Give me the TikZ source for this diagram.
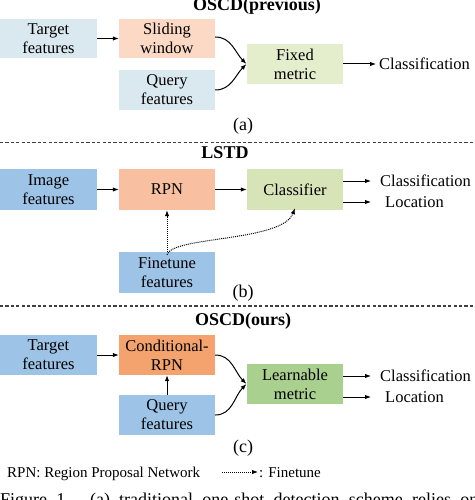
\documentclass[tikz,border=0pt]{standalone}
\usepackage{fontspec}
\setmainfont{Liberation Serif}
\usetikzlibrary{arrows.meta}
\definecolor{paleblue}{HTML}{DAE8F0}
\definecolor{palesalmon}{HTML}{FCD9C4}
\definecolor{palegreen}{HTML}{E4EDCC}
\definecolor{midblue}{HTML}{9DC3E6}
\definecolor{midsalmon}{HTML}{F8C0A0}
\definecolor{midgreen}{HTML}{D6E4B8}
\definecolor{strongorange}{HTML}{F4A36E}
\definecolor{stronggreen}{HTML}{A9D08E}
\definecolor{dashgray}{HTML}{404040}
\tikzset{
  box/.style={inner sep=0pt, minimum width=96pt, minimum height=40pt, align=center,
    font=\fontsize{16.5}{19}\selectfont},
  outtext/.style={anchor=west, inner sep=0pt, font=\fontsize{16.5}{19}\selectfont},
  title/.style={anchor=base, inner sep=0pt, font=\fontsize{18}{20}\selectfont\bfseries},
  sublabel/.style={inner sep=0pt, font=\fontsize{18}{20}\selectfont},
  arr/.style={line width=1pt, -{Latex[length=6pt,width=4.5pt]}},
  dotarr/.style={line width=1pt, densely dotted, -{Latex[length=6pt,width=4.5pt]}},
  sep/.style={line width=1.1pt, dashgray, dash pattern=on 3.2pt off 2.2pt},
}
\begin{document}
\begin{tikzpicture}[x=1pt,y=-1pt]
\useasboundingbox (0,0) rectangle (474,500);

% ---------- (a) ----------
\node[title] (ta_title) at (257,11) {OSCD(previous)};
\node[box, fill=paleblue, minimum width=97pt, minimum height=39pt] (ta) at (48.5,38.5) {Target\\features};
\node[box, fill=palesalmon, minimum height=39pt] (sw) at (167,38.5) {Sliding\\window};
\node[box, fill=paleblue] (qa) at (167,90) {Query\\features};
\node[box, fill=palegreen] (fm) at (295,64) {Fixed\\metric};
\coordinate (ma) at (246.5,64);
\node[outtext] (ca) at (379,64) {Classification};
\draw[arr] (ta.east) -- (sw.west);
\draw[arr] ([yshift=1.5pt]sw.east) to[out=0,in=135] (ma);
\draw[arr] (qa.east) to[out=0,in=225] (ma);
\draw[arr] (fm.east) -- ([xshift=-3pt]ca.west);
\node[sublabel] (la) at (243,126) {(a)};

\coordinate (s1l) at (0,142.5);
\coordinate (s1r) at (474,142.5);
\draw[sep] (s1l) -- (s1r);

% ---------- (b) ----------
\node[title] (tb_title) at (225,158.5) {LSTD};
\node[box, fill=midblue, minimum width=97pt, minimum height=41pt] (imf) at (48.5,189.5) {Image\\features};
\node[box, fill=midsalmon, minimum height=41pt] (rpn) at (167,189.5) {RPN};
\node[box, fill=midgreen, minimum height=41pt] (cls) at (295,189.5) {Classifier};
\node[box, fill=midblue, minimum height=41pt] (fin) at (167,272.5) {Finetune\\features};
\node[outtext] (cb) at (380,181) {Classification};
\node[outtext] (lb) at (385,202) {Location};
\coordinate (cbs) at (343,181);
\coordinate (lbs) at (343,202);
\draw[arr] (imf.east) -- (rpn.west);
\draw[arr] (rpn.east) -- (cls.west);
\draw[arr] (cbs) -- ([xshift=-9pt]cb.west);
\draw[arr] (lbs) -- ([xshift=-14pt]lb.west);
\draw[dotarr] (fin.north) -- (rpn.south);
\draw[dotarr] ([yshift=-3pt]fin.north) .. controls (172,236) and (282,242) .. ([yshift=2pt]cls.south);
\node[sublabel] (lbl) at (243,293.5) {(b)};

\coordinate (s2l) at (0,306);
\coordinate (s2r) at (474,306);
\draw[sep] (s2l) -- (s2r);

% ---------- (c) ----------
\node[title] (tc_title) at (243,325.5) {OSCD(ours)};
\node[box, fill=midblue, minimum width=97pt] (tc) at (48.5,355) {Target\\features};
\node[box, fill=strongorange] (crpn) at (167,355) {Conditional-\\RPN};
\node[box, fill=midblue] (qc) at (167,415) {Query\\features};
\node[box, fill=stronggreen] (lm) at (295,384) {Learnable\\metric};
\coordinate (mc) at (246.5,384);
\node[outtext] (cc) at (380,376) {Classification};
\node[outtext] (lc) at (385,397) {Location};
\coordinate (ccs) at (343,376);
\coordinate (lcs) at (343,397);
\draw[arr] (tc.east) -- (crpn.west);
\draw[arr] (qc.north) -- (crpn.south);
\draw[arr] (crpn.east) to[out=0,in=135] (mc);
\draw[arr] (qc.east) to[out=0,in=225] (mc);
\draw[arr] (ccs) -- ([xshift=-9pt]cc.west);
\draw[arr] (lcs) -- ([xshift=-14pt]lc.west);
\node[sublabel] (lcl) at (243,448) {(c)};

% ---------- legend ----------
\node[anchor=base west, inner sep=0pt, font=\fontsize{15}{17}\selectfont] (leg1) at (7,477) {RPN: Region Proposal Network};
\coordinate (lg0) at (222,472);
\node[anchor=base west, inner sep=0pt, font=\fontsize{15}{17}\selectfont] (leg2) at (259,477) {: Finetune};
\draw[dotarr, line width=0.9pt] (lg0) -- ([xshift=-1pt]leg2.west |- lg0);

% ---------- cut caption ----------
\node[anchor=base west, inner sep=0pt, font=\fontsize{18}{20}\selectfont] (cap) at (0,505)
  {\makebox[478pt][s]{Figure 1. (a) traditional one-shot detection scheme relies on}};
\end{tikzpicture}
\end{document}
